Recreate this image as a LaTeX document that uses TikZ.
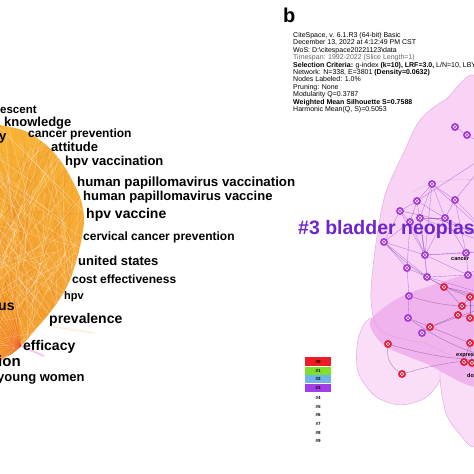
\documentclass[tikz,border=0pt]{standalone}
\usepackage{fontspec}
\setmainfont{Liberation Sans}
\usepackage{tikz}
\definecolor{blobor}{HTML}{F8B538}
\definecolor{blobye}{HTML}{FDD264}
\definecolor{blobbot}{HTML}{F4A032}
\definecolor{lineor}{HTML}{E67A1C}
\definecolor{linered}{HTML}{EE4630}
\definecolor{linepk}{HTML}{E89AD6}
\definecolor{pinkA}{HTML}{F8D3F6}
\definecolor{pinkB}{HTML}{FADDF7}
\definecolor{pinkC}{HTML}{F1B3EE}
\definecolor{pinkedge}{HTML}{E0A2DA}
\definecolor{nodepur}{HTML}{A43CDC}
\definecolor{nodered}{HTML}{E6203C}
\definecolor{edgepur}{HTML}{A955DC}
\definecolor{labpur}{HTML}{6E26CC}
\definecolor{cl0}{HTML}{EE1C24}
\definecolor{cl1}{HTML}{7EE02A}
\definecolor{cl2}{HTML}{6CB4EA}
\definecolor{cl3}{HTML}{A23EE6}
\newcommand{\kwsize}[1]{\fontsize{#1}{#1}\selectfont\bfseries}
\tikzset{
  kw/.style={inner sep=0pt, anchor=base west, text=black},
  infotxt/.style={inner sep=0pt, anchor=base west, font=\fontsize{7}{7}\selectfont},
  pnode/.style={circle, inner sep=0pt, minimum size=8pt, fill=nodepur,
    path picture={\draw[white, line width=0.5pt] (path picture bounding box.center) circle (1.7pt);}},
  rnode/.style={pnode, fill=nodered},
  pedge/.style={edgepur, line width=0.35pt, opacity=0.75},
  gedge/.style={black!35!edgepur, line width=0.35pt, opacity=0.6},
  legbox/.style={minimum width=26pt, minimum height=8.4pt, inner sep=0pt, font=\kwsize{4.5}},
  blobline/.style={pinkedge, line width=0.4pt},
}

\begin{document}
\begin{tikzpicture}[x=1pt,y=-1pt]
  \useasboundingbox (0,0) rectangle (474,474);
  \clip (0,0) rectangle (474,474);

  \begin{scope}
    \clip plot[smooth cycle] coordinates {(-40,118) (0,125) (25,131) (45,144) (60,160) (72,180) (81,200) (84,220) (81,242) (76,262) (70,280) (61,297) (48,315) (35,330) (22,345) (6,357) (-40,372)};
    \shade[top color=blobor, middle color=blobye, bottom color=blobbot] (-50,110) rectangle (100,380);
    \pgfmathsetseed{4}
    \foreach \i in {1,...,200}{
      \pgfmathsetmacro\xa{-40+130*rnd}
      \pgfmathsetmacro\ya{115+260*rnd}
      \pgfmathsetmacro\xb{-40+130*rnd}
      \pgfmathsetmacro\yb{115+260*rnd}
      \draw[lineor, line width=0.3pt, opacity=0.3] (\xa,\ya) -- (\xb,\yb);
    }
    \foreach \i in {1,...,100}{
      \pgfmathsetmacro\xa{-40+130*rnd}
      \pgfmathsetmacro\ya{115+260*rnd}
      \pgfmathsetmacro\xb{-40+130*rnd}
      \pgfmathsetmacro\yb{115+260*rnd}
      \draw[white, line width=0.4pt, opacity=0.35] (\xa,\ya) -- (\xb,\yb);
    }
    \coordinate (fan) at (21,346);
    \foreach \a in {100,106,...,262}
      \draw[linered, line width=0.35pt, opacity=0.6] (fan) -- ++(\a:70);
  \end{scope}
  \draw[linepk, line width=2pt, opacity=0.5] (fan) -- (44,356);
  \draw[orange!25, line width=1.5pt, opacity=0.6] (48,326) -- (95,333);

  \foreach \x/\y/\s/\t [count=\k] in {
      0/111/11.5/escent, 4/123/13/knowledge, -1/137/13/y,
      28/134/12/cancer prevention, 51/148/13/attitude,
      65/162/13/hpv vaccination, 77/183/13.3/human papillomavirus vaccination,
      83/197/13/human papillomavirus vaccine, 86/215/14/hpv vaccine,
      83/237/12/cervical cancer prevention, 78/262/13/united states,
      72/280/12/cost effectiveness, 64/297/11/hpv, -2/307/14/us,
      49/320/14/prevalence, 23/347/14/efficacy, -2/363/15/ion,
      -3/378/13/young women}
    \node[kw, font=\kwsize{\s}] (kw\k) at (\x,\y+0.26*\s) {\t};

  \node[kw, font=\kwsize{20}] (panelb) at (283,22) {b};
  \foreach \ln [count=\k] in {
      {CiteSpace, v. 6.1.R3 (64-bit) Basic},
      {December 13, 2022 at 4:12:49 PM CST},
      {WoS: D:\textbackslash citespace20221123\textbackslash data},
      {\textcolor{black!60}{Timespan: 1992-2022 (Slice Length=1)}},
      {\textbf{Selection Criteria:} g-index \textbf{(k=10), LRF=3.0,} L/N=10, LBY=5, e=1.0},
      {Network: N=338, E=3801 \textbf{(Density=0.0632)}},
      {Nodes Labeled: 1.0\%},
      {Pruning: None},
      {Modularity Q=0.3787},
      {\textbf{Weighted Mean Silhouette S=0.7588}},
      {Harmonic Mean(Q, S)=0.5053}}
    \node[infotxt] (info\k) at (293,27.6+7.4*\k+2.5) {\ln};

  \fill[pinkA] plot[smooth cycle] coordinates {(480,88) (445,100) (420,120) (404,152) (385,195) (375,250) (371,300) (380,330) (420,342) (480,342)};
  \fill[pinkB] plot[smooth cycle] coordinates {(372,318) (358,340) (358,372) (375,396) (400,405) (425,398) (440,380) (445,350) (420,330)};
  \draw[blobline] plot[smooth cycle] coordinates {(372,318) (358,340) (358,372) (375,396) (400,405) (425,398) (440,380) (445,350) (420,330)};
  \fill[pinkB] plot[smooth cycle] coordinates {(442,365) (445,410) (458,432) (476,444) (482,360)};
  \draw[blobline] plot[smooth cycle] coordinates {(442,365) (445,410) (458,432) (476,444) (482,360)};
  \fill[pinkC] plot[smooth cycle] coordinates {(370,322) (395,300) (427,287) (478,276) (482,330) (478,386) (427,364) (385,346)};
  \draw[blobline] plot[smooth cycle] coordinates {(480,88) (445,100) (420,120) (404,152) (385,195) (375,250) (371,300) (380,330) (420,342) (480,342)};
  \draw[blobline, opacity=0.6] (413,192) .. controls (430,182) and (450,178) .. (476,180);

  \coordinate (hubA) at (505,250);
  \coordinate (hubB) at (505,300);
  \coordinate (hubC) at (500,360);
  \coordinate (hubD) at (495,150);

  \foreach \x/\y [count=\k] in {432/184, 417/201, 455/200, 400/211, 420/218, 410/222,
      445/218, 384/242, 425/255, 466/253, 407/268, 427/277, 468/275, 409/296,
      408/318, 422/333, 455/127, 467/135}
    \node[pnode] (p\k) at (\x,\y) {};
  \foreach \x/\y [count=\k] in {444/287, 470/297, 462/306, 458/315, 470/318, 430/327,
      388/344, 470/343, 464/362, 472/363, 402/374}
    \node[rnode] (r\k) at (\x,\y) {};

  \foreach \a/\b in {p1/p2, p1/p3, p1/p5, p1/p7, p1/p9, p2/p4, p2/p6, p2/p7, p2/p9,
      p3/p7, p3/p10, p4/p6, p4/p8, p4/p9, p5/p7, p5/p9, p5/p12, p6/p8, p6/p9, p6/p11,
      p7/p10, p7/p9, p8/p9, p8/p11, p8/p12, p9/p10, p9/p12, p9/p13, p11/p12, p11/p14,
      p12/p13, p10/p13, p14/p15, p17/p18, p1/hubA, p3/hubA, p7/hubA, p10/hubA,
      p13/hubA, p5/hubA, p9/hubA, p12/hubB, p2/hubD, p3/hubD, p18/hubD, p12/r1}
    \draw[pedge] (\a) -- (\b);
  \foreach \a/\b in {r1/r2, r1/r3, r2/r3, r3/r4, r4/r5, r2/r5, r4/r6, r6/r8, r8/r9,
      r9/r10, r8/r10, r6/p16, p15/r6, r1/hubB, r6/hubB}
    \draw[gedge] (\a) -- (\b);
  \draw[gedge] (p8) to[bend right=20] (hubB);
  \draw[gedge] (p14) to[bend right=15] (hubB);
  \draw[gedge] (p15) to[bend right=10] (hubC);
  \draw[gedge] (p4) to[bend left=10] (hubA);
  \draw[gedge] (r7) to[bend right=30] (r11);
  \draw[gedge] (r7) to[bend right=8] (hubC);
  \draw[gedge] (r11) to[bend left=8] (hubC);

  \node[kw, font=\kwsize{5.5}] (labA) at (451,260) {cancer};
  \node[kw, font=\kwsize{5.5}] (labB) at (456,356) {expression};
  \node[kw, font=\kwsize{5.5}] (labC) at (467,377) {double blind};

  \node[kw, font=\kwsize{19.5}, text=labpur] (clus3) at (298,234) {\#3 bladder neoplasm};

  \foreach \c/\y [count=\k from 0] in {cl0/361.5, cl1/371, cl2/379, cl3/388}
    \node[legbox, fill=\c] (leg\k) at (318,\y) {\#\k};
  \foreach \y [count=\k from 4] in {398, 407, 415, 424, 433, 441}
    \node[legbox] (leg\k) at (318,\y) {\#\k};
\end{tikzpicture}
\end{document}
